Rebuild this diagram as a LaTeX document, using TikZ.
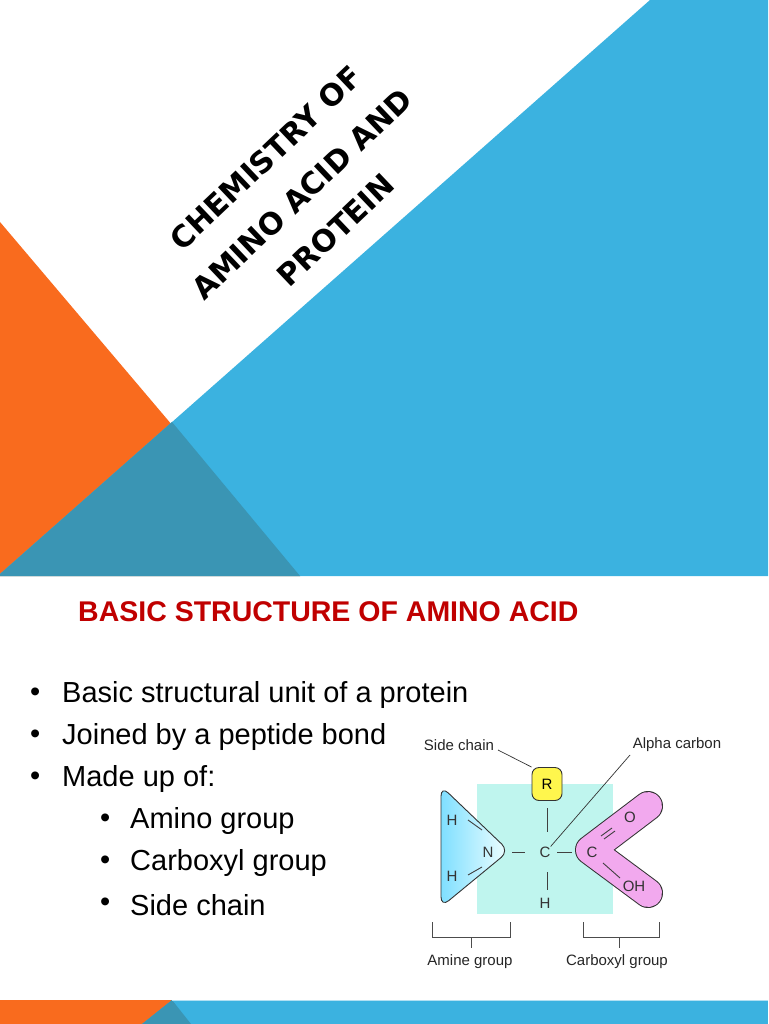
\documentclass[tikz,border=0pt]{standalone}
\usepackage{fontspec}
\setmainfont{Liberation Sans}
\newfontfamily\titlefont{DejaVu Sans}
\begin{document}
\begin{tikzpicture}[x=1pt,y=-1pt,
  atom/.style={inner sep=0pt,font=\fontsize{15}{15}\selectfont,text=black!80},
  lbl/.style={inner sep=0pt,font=\fontsize{15}{16}\selectfont,text=black!85},
  bond/.style={line width=0.9pt,black!75},
  bullet/.style={anchor=west,inner sep=0pt,font=\fontsize{29}{30}\selectfont},
  ttl/.style={rotate=43.5,inner sep=0pt,font=\titlefont\bfseries\fontsize{30}{30}\selectfont}]
\definecolor{orng}{HTML}{F96B1E}
\definecolor{blu}{HTML}{3BB2E0}
\definecolor{dblu}{HTML}{3A95B4}
\definecolor{redh}{HTML}{C00000}
\definecolor{aqua}{HTML}{BFF5EE}
\definecolor{pnk}{HTML}{F2A9EE}
\useasboundingbox (0,0) rectangle (768,1024);
\fill[white] (0,0) rectangle (768,1024);
% title slide
\fill[orng] (0,222) -- (300,576) -- (0,576) -- cycle;
\fill[blu] (650,0) -- (768,0) -- (768,576) -- (0,576) -- (0,574) -- cycle;
\fill[dblu] (172,422) -- (300,576) -- (0,576) -- (0,574) -- cycle;
\node[ttl] (t1) at (266,158) {CHEMISTRY OF};
\node[ttl] (t2) at (302,194) {AMINO ACID AND};
\node[ttl] (t3) at (336,230) {PROTEIN};
% bottom strip
\fill[blu] (0,1000) rectangle (768,1024);
\fill[orng] (0,1000) -- (172,1000) -- (142,1024) -- (0,1024) -- cycle;
\fill[dblu] (172,1000) -- (191,1024) -- (142,1024) -- cycle;
\draw[blu!40,line width=1pt] (172,1000.5) -- (768,1000.5);
% heading
\node[anchor=west,inner sep=0pt,text=redh,font=\bfseries\fontsize{28.5}{30}\selectfont] (hd) at (78,612) {BASIC STRUCTURE OF AMINO ACID};
% bullets
\foreach \y/\t [count=\i] in {695/Basic structural unit of a protein,737/Joined by a peptide bond,779/Made up of:}{
  \node[bullet] (b\i) at (30,\y) {\textbullet};
  \node[bullet] (bt\i) at (62,\y) {\t};
}
\foreach \y/\t [count=\i] in {821/Amino group,863/Carboxyl group,905/Side chain}{
  \node[bullet] (s\i) at (100,\y) {\textbullet};
  \node[bullet] (st\i) at (130,\y) {\t};
}
% diagram
\fill[aqua] (477,784) rectangle (613,914);
\shade[left color=blue!25!cyan!50!white, right color=cyan!6, draw=black!80, line width=0.9pt, rounded corners=10pt]
  (441,786) -- (509,851) -- (441,907) -- cycle;
\draw[black!80, line width=30pt, line cap=round, line join=round] (648,806) -- (590,850) -- (648,893);
\draw[pnk, line width=28pt, line cap=round, line join=round] (648,806) -- (590,850) -- (648,893);
\node[draw=black!80,fill=yellow!70!white,line width=0.9pt,rounded corners=7pt,minimum width=30pt,minimum height=33pt,inner sep=0pt,font=\fontsize{15}{15}\selectfont] (R) at (547,784) {R};
\node[atom] (H1) at (452,820) {H};
\node[atom] (N) at (488,852) {N};
\node[atom] (H2) at (452,876) {H};
\node[atom] (Ca) at (545,852) {C};
\node[atom] (Cc) at (592,852) {C};
\node[atom] (O) at (630,817) {O};
\node[atom] (OH) at (634,886) {OH};
\node[atom] (Hb) at (545,903) {H};
\draw[bond] (468,820) -- (482,830);
\draw[bond] (468,875) -- (482,867);
\draw[bond] (512,852) -- (525,852);
\draw[bond] (557,852) -- (572,852);
\draw[bond] (547,808) -- (547,832);
\draw[bond] (547,872) -- (547,890);
\draw[bond] (601,836) -- (612,828);
\draw[bond] (604,839) -- (615,831);
\draw[bond] (603,863) -- (620,878);
\node[lbl] (sc) at (459,745) {Side chain};
\node[lbl] (ac) at (677,745) {Alpha carbon};
\draw[black!80,line width=0.7pt] (498,750) -- (R.north west);
\draw[black!80,line width=0.7pt] (630,755) -- (Ca.north east);
\draw[black!70,line width=0.8pt] (432,922) -- (432,937) -- (510,937) -- (510,922) (471,937) -- (471,948);
\draw[black!70,line width=0.8pt] (583,922) -- (583,937) -- (659,937) -- (659,922) (619,937) -- (619,948);
\node[lbl] (am) at (470,962) {Amine group};
\node[lbl] (cg) at (617,962) {Carboxyl group};
\end{tikzpicture}
\end{document}
